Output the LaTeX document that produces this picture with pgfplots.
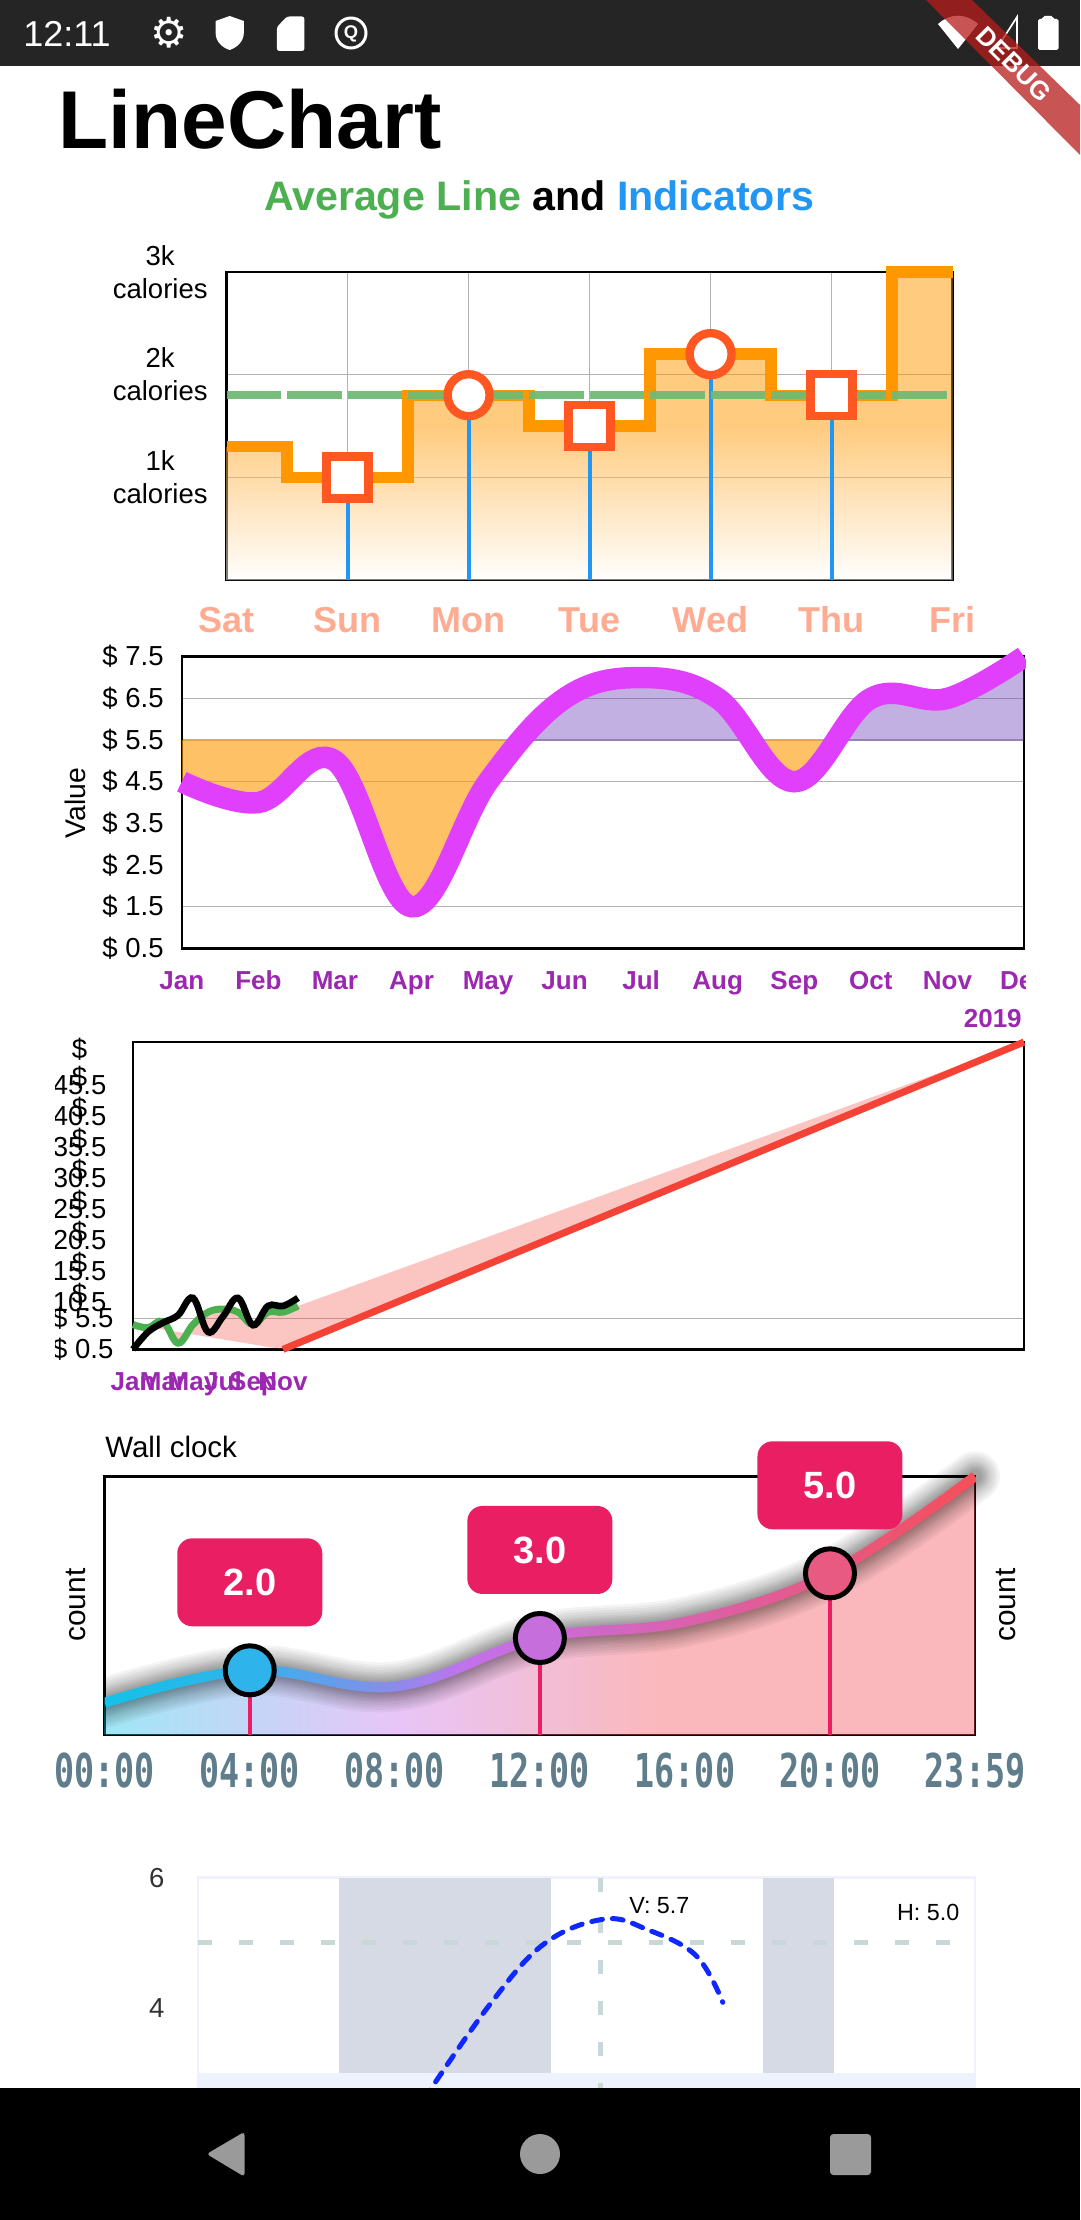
\documentclass[border=0pt]{standalone}
\usepackage{fontspec}
\usepackage{graphicx}
\usepackage{pgfplots}
\usepackage{pgfplotstable}
\pgfplotsset{compat=1.18}
\setmainfont{Liberation Sans}
\newfontfamily\symfont{DejaVu Sans}
\newfontfamily\digitfont{DejaVu Sans Mono}

% 1 screen pixel = 0.6pt
\def\pxu{0.6pt}
\newcommand\dg[1]{\scalebox{1}[1.4]{#1}}
% dollar sign overprinted just above the number, as in the squeezed axis
\newcommand\dstack[1]{\setbox0\hbox{#1}\copy0\kern-\wd0\hbox to \wd0{\hss\raisebox{5pt}[0pt][0pt]{\$}\hss}}

\definecolor{gridgray}{RGB}{178,178,178}
\definecolor{stepcol}{HTML}{FF9800}
\definecolor{dotcol}{HTML}{FF5722}
\definecolor{avgcol}{RGB}{112,186,116}
\definecolor{indblue}{HTML}{2196F3}
\definecolor{daycol}{HTML}{FFAB91}
\definecolor{monthcol}{HTML}{9C27B0}
\definecolor{curvecol}{HTML}{E040FB}
\definecolor{deeppurple}{HTML}{673AB7}
\definecolor{tipred}{HTML}{E91E63}
\definecolor{clockcol}{HTML}{607D8B}
\definecolor{bandgray}{RGB}{213,218,229}
\definecolor{bandlight}{RGB}{238,242,253}
\definecolor{annot}{RGB}{200,215,215}

\pgfdeclareverticalshading{stepfill}{100bp}{rgb(0bp)=(1,1,1); rgb(25bp)=(1,1,1); rgb(50bp)=(1,0.596,0); rgb(100bp)=(1,0.596,0)}
\pgfdeclarehorizontalshading{wallfill}{100bp}{rgb(0bp)=(0.07,0.76,0.91); rgb(25bp)=(0.07,0.76,0.91); rgb(41.67bp)=(0.77,0.44,0.93); rgb(56.67bp)=(0.96,0.31,0.35); rgb(100bp)=(0.96,0.31,0.35)}

% stroke colours of the wall clock curve, one per strip
\def\stopval#1#2#3#4#5{ifthenelse(\tpos<1,#1+(#2-#1)*\tpos,ifthenelse(\tpos<2,#2+(#3-#2)*(\tpos-1),ifthenelse(\tpos<2.5,#3+(#4-#3)*(\tpos-2)*2,#4+(#5-#4)*(\tpos-2.5)/3.5)))}
\pgfplotsforeachungrouped \i in {0,...,71}{%
  \pgfmathsetmacro\tpos{(\i+0.5)/12}%
  \pgfmathtruncatemacro\colr{\stopval{18}{50}{140}{196}{246}}%
  \pgfmathtruncatemacro\colg{\stopval{194}{180}{140}{113}{79}}%
  \pgfmathtruncatemacro\colb{\stopval{233}{235}{235}{237}{89}}%
  \definecolor{strip\i}{RGB}{\colr,\colg,\colb}%
}

\pgfplotstableread{
x y
0 1300
1 1000
2 1800
3 1500
4 2200
5 1800
6 3000
}\calories

\pgfplotstableread{
x y
0 4.5
1 4
2 5
3 1.5
4 4.5
5 6.5
6 7
7 6.5
8 4.5
9 6.5
10 6.5
11 7.5
}\monthly

\pgfplotstableread{
x y
0 0.5
1 3.3
2 4.8
3 6
4 8.8
5 3.3
6 5.8
7 8.8
8 4.4
9 7.5
10 7.5
11 8.8
}\blackline

\pgfplotstableread{
x y
0 1
1 2
2 1.5
3 3
4 3.5
5 5
6 8
}\wall

\pgfplotstableread{
x y
3.2 2.59
4.12 4.03
4.9 4.98
5.75 5.36
6.36 5.2
7.05 4.8
7.43 4.08
}\dashcurve

\pgfplotsset{
  panel/.style={
    scale only axis,
    anchor=north west,
    clip=false,
    axis line style={line width=1.5pt},
    major tick length=0pt,
    tick style={draw=none},
    minor tick num=0,
    major grid style={line width=0.9pt,draw=gridgray},
    tick label style={inner sep=0pt},
  },
  ylab/.style={yticklabel style={font=\fontsize{16.5}{19.8}\selectfont,anchor=east}},
  xmonth/.style={xticklabel style={font=\fontsize{15.6}{18}\selectfont\bfseries,text=monthcol,anchor=base,yshift=-24.5pt}},
}

\begin{document}
\begin{tikzpicture}
\path[use as bounding box,fill=white] (0,0) rectangle (648pt,-1332pt);

% calories, step line
\begin{axis}[panel,
  at={(226.6*\pxu,-272*\pxu)},width=435.6pt,height=184.8pt,
  xmin=0,xmax=6,ymin=0,ymax=3000,
  xtick={0,...,6},xticklabels={Sat,Sun,Mon,Tue,Wed,Thu,Fri},
  ytick={1000,2000,3000},
  yticklabels={{1k\\calories},{2k\\calories},{3k\\calories}},
  grid=major,
  xticklabel style={font=\fontsize{21.6}{24}\selectfont\bfseries,text=daycol,anchor=base,yshift=-31.2pt},
  yticklabel style={align=center,font=\fontsize{16.5}{19.8}\selectfont,anchor=east,xshift=-11.2pt},
]
  \addplot[const plot mark mid,draw=none,shade,shading=stepfill,fill opacity=0.5] table {\calories} \closedcycle;
  \addplot[ycomb,indblue,line width=2.4pt] coordinates {(1,1000)(2,1800)(3,1500)(4,2200)(5,1800)};
  \addplot[const plot mark mid,stepcol,line width=6.8pt,line join=miter] table {\calories};
  \addplot[only marks,mark=square*,mark size=12.6pt,mark options={draw=dotcol,fill=white,line width=5pt}] coordinates {(1,1000)(3,1500)(5,1800)};
  \addplot[only marks,mark=*,mark size=12.6pt,mark options={draw=dotcol,fill=white,line width=5pt}] coordinates {(2,1800)(4,2200)};
  \addplot[avgcol,opacity=0.95,line width=4.8pt,dash pattern=on 32.8pt off 3.5pt] coordinates {(0,1800)(5.95,1800)};
\end{axis}

% monthly value with fill above and below the average
\begin{axis}[panel,xmonth,ylab,
  at={(181.8*\pxu,-656.7*\pxu)},width=505.3pt,height=175pt,
  xmin=0,xmax=11,ymin=0.5,ymax=7.5,
  xtick={0,...,11},xticklabels={Jan,Feb,Mar,Apr,May,Jun,Jul,Aug,Sep,Oct,Nov,Dec},
  ymajorgrids,
  ytick={1.5,4.5,5.5,6.5,7.5},
  yticklabels={\$ 1.5,\$ 4.5,\$ 5.5,\$ 6.5,\$ 7.5},
  extra y ticks={0.5,2.5,3.5},extra y tick labels={\$ 0.5,\$ 2.5,\$ 3.5},
  extra y tick style={grid=none},
  yticklabel style={xshift=-10.7pt},
]
  \begin{scope}
    \clip (axis cs:0,0.5) rectangle (axis cs:11,5.5);
    \addplot[fill=stepcol,fill opacity=0.6,draw=none,smooth,tension=0.63] table {\monthly} -- (axis cs:11,9) -- (axis cs:0,9) -- cycle;
  \end{scope}
  \begin{scope}
    \clip (axis cs:0,5.5) rectangle (axis cs:11,8);
    \addplot[fill=deeppurple,fill opacity=0.4,draw=none,smooth,tension=0.63] table {\monthly} -- (axis cs:11,0.5) -- (axis cs:0,0.5) -- cycle;
  \end{scope}
  \addplot[curvecol,line width=12.9pt,smooth,tension=0.63] table {\monthly};
\end{axis}

% same months on a long x range, plus the straight red line
\begin{axis}[panel,xmonth,
  at={(133*\pxu,-1042*\pxu)},width=534.6pt,height=184.4pt,
  xmin=0,xmax=59.4,ymin=0.5,ymax=50.1,
  xtick={0,2,...,10},xticklabels={Jan,Mar,May,Jul,Sep,Nov},
  ytick={0.5,5.5},yticklabels={\$ 0.5,\$ 5.5},
  ymajorgrids,
  yticklabel style={font=\fontsize{16.5}{19.8}\selectfont,anchor=east,xshift=-11.6pt},
  extra y ticks={10.5,15.5,20.5,25.5,30.5,35.5,40.5,45.5,50.09},
  extra y tick labels={\dstack{10.5},\dstack{15.5},\dstack{20.5},\dstack{25.5},\dstack{30.5},\dstack{35.5},\dstack{40.5},\dstack{45.5},\dstack{\phantom{50.5}}},
  extra y tick style={grid=none,yticklabel style={xshift=-4.2pt,yshift=-9pt}},
]
  \addplot[fill={rgb,255:red,244;green,67;blue,54},fill opacity=0.3,draw=none,smooth,tension=0.63] table {\monthly} -- (axis cs:59.4,50.1) -- (axis cs:10,0.5) -- cycle;
  \addplot[color={rgb,255:red,244;green,67;blue,54},line width=4.2pt] coordinates {(10,0.5)(59.4,50.1)};
  \addplot[color={rgb,255:red,76;green,175;blue,80},line width=4.2pt,smooth,tension=0.63] table {\monthly};
  \addplot[black,line width=4pt,smooth,tension=0.63] table {\blackline};
\end{axis}

% wall clock
\begin{axis}[panel,
  at={(104.7*\pxu,-1476.3*\pxu)},width=522.2pt,height=155.2pt,
  xmin=0,xmax=6,ymin=0,ymax=8,
  xtick={0,...,6},
  xticklabels={\dg{00:00},\dg{04:00},\dg{08:00},\dg{12:00},\dg{16:00},\dg{20:00},\dg{23:59}},
  ytick=\empty,
  xticklabel style={font=\fontsize{20}{22}\selectfont\digitfont\bfseries,text=clockcol,anchor=base,yshift=-31.6pt},
]
  \addplot[draw=none,shade,shading=wallfill,fill opacity=0.4] table {\wall} \closedcycle;
  \begin{scope}
    \clip (axis cs:0,-2) rectangle (axis cs:6.2,9.5);
    \pgfplotsinvokeforeach{30,27,24,21,18,16,14,12,10,8}{
      \addplot[black,opacity=0.045,line width=#1pt,line cap=round,smooth,tension=0.63] table {\wall};
    }
  \end{scope}
  \addplot[ycomb,tipred,line width=2.4pt] coordinates {(1,2)(3,3)(5,5)};
  \pgfplotsinvokeforeach{0,...,71}{
    \begin{scope}
      \clip (axis cs:#1/12,-2) rectangle (axis cs:#1/12+0.09,9.5);
      \addplot[strip#1,line width=6pt,smooth,tension=0.63] table {\wall};
    \end{scope}
  }
  \addplot[only marks,mark=*,mark size=14.7pt,mark options={draw=black,line width=3pt,fill={rgb,255:red,47;green,179;blue,235}}] coordinates {(1,2)};
  \addplot[only marks,mark=*,mark size=14.7pt,mark options={draw=black,line width=3pt,fill={rgb,255:red,198;green,110;blue,220}}] coordinates {(3,3)};
  \addplot[only marks,mark=*,mark size=14.7pt,mark options={draw=black,line width=3pt,fill={rgb,255:red,232;green,90;blue,130}}] coordinates {(5,5)};
  \node[fill=tipred,rounded corners=9pt,minimum width=87pt,minimum height=52.8pt,inner sep=0pt,text=white,font=\fontsize{22.8}{25}\selectfont\bfseries,yshift=52.8pt] at (axis cs:1,2) {2.0};
  \node[fill=tipred,rounded corners=9pt,minimum width=87pt,minimum height=52.8pt,inner sep=0pt,text=white,font=\fontsize{22.8}{25}\selectfont\bfseries,yshift=52.8pt] at (axis cs:3,3) {3.0};
  \node[fill=tipred,rounded corners=9pt,minimum width=87pt,minimum height=52.8pt,inner sep=0pt,text=white,font=\fontsize{22.8}{25}\selectfont\bfseries,yshift=52.8pt] at (axis cs:5,5) {5.0};
\end{axis}

% range annotations, cut off by the navigation bar
\begin{axis}[panel,
  at={(198*\pxu,-1877.5*\pxu)},width=466.2pt,height=136.5pt,
  xmin=0,xmax=11,ymin=2.5,ymax=6,
  xtick=\empty,ytick={4,6},yticklabels={4,6},
  axis line style={line width=1.6pt,draw=bandlight},
  yticklabel style={font=\fontsize{16.5}{19.8}\selectfont,text={rgb,255:red,50;green,50;blue,50},anchor=east,xshift=-20pt},
]
  \addplot[fill=bandgray,draw=none] coordinates {(2,3)(2,6)(5,6)(5,3)} --cycle;
  \addplot[fill=bandgray,draw=none] coordinates {(8,3)(8,6)(9,6)(9,3)} --cycle;
  \addplot[fill=bandlight,draw=none] coordinates {(0,2.5)(0,3)(11,3)(11,2.5)} --cycle;
  \addplot[annot,line width=3.2pt,dash pattern=on 8.4pt off 16.2pt] coordinates {(0,5)(11,5)};
  \addplot[annot,line width=3.4pt,dash pattern=on 8.4pt off 16.2pt] coordinates {(5.7,6)(5.7,2.5)};
  \addplot[color={rgb,255:red,15;green,40;blue,255},line width=3pt,line cap=round,dash pattern=on 6.5pt off 6pt,smooth,tension=0.63] table {\dashcurve};
\end{axis}

\begin{scope}[x=0.6pt,y=-0.6pt]
  % labels around the plots
  \fill[white] (1025.5,640) rectangle (1080,1000);
  \fill[white] (0,1030) rectangle (55,1400);
  \node[anchor=base west,inner sep=0pt,font=\fontsize{49.2}{52}\selectfont\bfseries] at (58.5,149) {LineChart};
  \node[anchor=base,inner sep=0pt,font=\fontsize{24.7}{28}\selectfont\bfseries] at (539,210.6)
    {\textcolor[RGB]{76,175,80}{Average Line} and \textcolor{indblue}{Indicators}};
  \node[anchor=base east,inner sep=0pt,text=monthcol,font=\fontsize{15.6}{18}\selectfont\bfseries] at (1022,1027) {2019};
  \node[rotate=90,inner sep=0pt,font=\fontsize{17}{20}\selectfont] at (75.8,803) {Value};
  \node[rotate=90,inner sep=0pt,font=\fontsize{17.9}{20}\selectfont] at (75.8,1605) {count};
  \node[rotate=90,inner sep=0pt,font=\fontsize{17.9}{20}\selectfont] at (1005.5,1605) {count};
  \node[anchor=west,inner sep=0pt,font=\fontsize{17.7}{20}\selectfont] at (105,1446.7) {Wall clock};
  \node[anchor=west,inner sep=0pt,font=\fontsize{14}{16}\selectfont] at (629,1906) {V: 5.7};
  \node[anchor=west,inner sep=0pt,font=\fontsize{14}{16}\selectfont] at (896.7,1912.7) {H: 5.0};

  % status bar
  \fill[fill={rgb,255:red,37;green,37;blue,37}] (0,0) rectangle (1080,66);
  \node[anchor=west,inner sep=0pt,text=white,font=\fontsize{21.6}{24}\selectfont] at (23,33.5) {12:11};
  \node[inner sep=0pt,text=white,font=\fontsize{25}{28}\selectfont\symfont] at (168.7,33) {⚙};
  \fill[white] (229.7,16)--(243.8,21)--(243.8,33) .. controls (243.8,42) and (236,48) .. (229.7,50) .. controls (223,48) and (215.6,42) .. (215.6,33)--(215.6,21)--cycle;
  \fill[white,rounded corners=1.5pt] (287,16.5)--(304.4,16.5)--(304.4,51)--(276.9,51)--(276.9,27)--cycle;
  \draw[white,line width=1.8pt] (351,33) circle (15);
  \node[inner sep=0pt,text=white,font=\fontsize{11}{12}\selectfont\bfseries] at (351,33.5) {Q};
  \fill[white] (938,24) .. controls (950,13) and (966,13) .. (978,24)--(958,49)--cycle;
  \draw[white,line width=1pt] (1017,17)--(1017,48)--(997,48)--cycle;
  \fill[white,rounded corners=1pt] (1038,19)--(1043,19)--(1043,16)--(1053,16)--(1053,19)--(1058.6,19)--(1058.6,50)--(1038,50)--cycle;

  % debug banner
  \fill[fill={rgb,255:red,183;green,28;blue,28},fill opacity=0.75] (926,0)--(972,0)--(1080,105)--(1080,155)--cycle;
  \node[rotate=-45,inner sep=0pt,text=white,font=\fontsize{15.5}{18}\selectfont\bfseries] at (1014,64) {DEBUG};

  % navigation bar
  \fill[black] (0,2088) rectangle (1080,2220);
  \fill[fill={rgb,255:red,154;green,154;blue,154},rounded corners=2pt] (244.5,2131.7)--(244.5,2176.7)--(206.6,2154)--cycle;
  \fill[fill={rgb,255:red,154;green,154;blue,154}] (540,2154) circle (20);
  \fill[fill={rgb,255:red,154;green,154;blue,154},rounded corners=2pt] (830,2134) rectangle (871,2175);
\end{scope}
\end{tikzpicture}
\end{document}
